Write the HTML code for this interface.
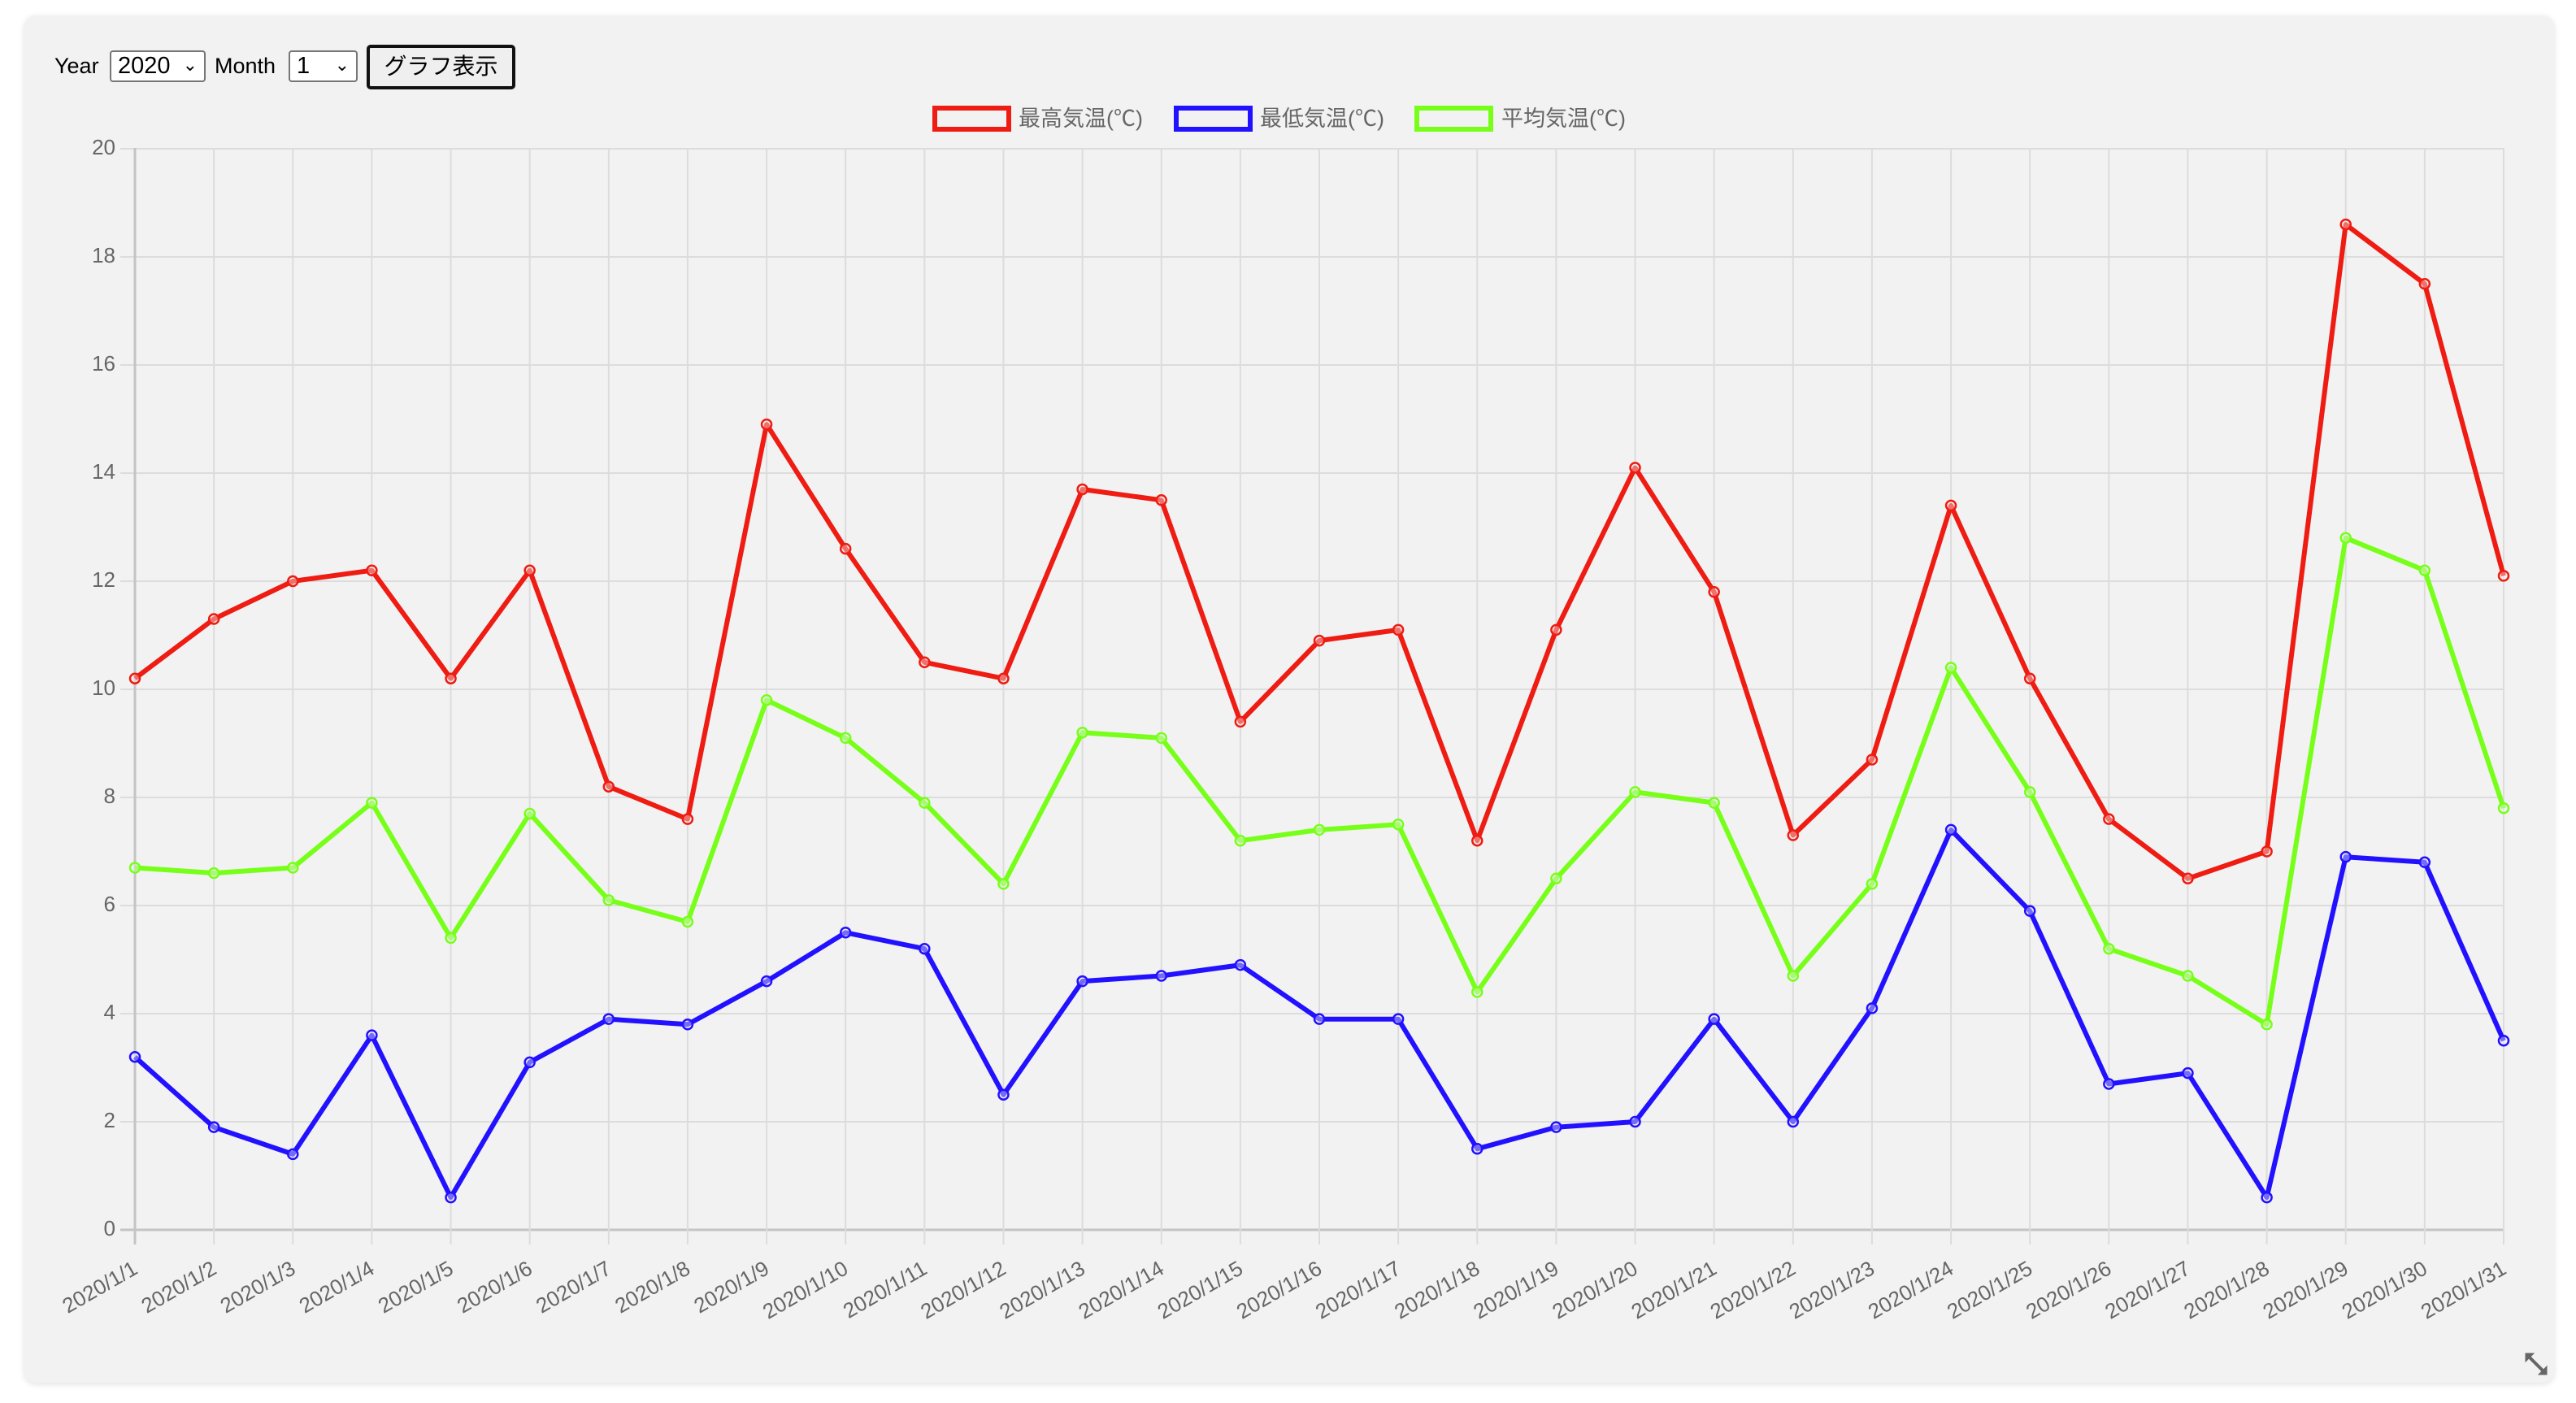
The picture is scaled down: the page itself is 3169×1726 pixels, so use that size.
<!DOCTYPE html>
<html><head><meta charset="utf-8"><style>
html,body{margin:0;padding:0;background:#fff;width:3169px;height:1726px;overflow:hidden;}
.card{position:absolute;left:30px;top:19px;width:3112px;height:1682px;background:#f2f2f2;border-radius:14px;box-shadow:0 2px 8px rgba(0,0,0,0.12);}
.ctrl{position:absolute;font-family:"Liberation Sans","Noto Sans CJK JP",sans-serif;font-size:27px;color:#000;}
.sel{position:absolute;background:#fff;border:2px solid #767676;border-radius:4px;box-sizing:border-box;font-family:"Liberation Sans",sans-serif;font-size:29px;line-height:35px;padding-left:8px;}
.btn{position:absolute;border:4px solid #111;border-radius:5px;box-sizing:border-box;background:#efefef;font-family:"Liberation Sans","Noto Sans CJK JP",sans-serif;font-size:28px;text-align:center;line-height:46px;}
svg{position:absolute;left:0;top:0;}
</style></head><body>
<div class="card"></div>
<div class="ctrl" style="left:67px;top:66px;">Year</div>
<div class="sel" style="left:135px;top:62px;width:118px;height:39px;">2020<span style="position:absolute;right:8px;top:-2px;font-size:22px;">&#8964;</span></div>
<div class="ctrl" style="left:264px;top:66px;">Month</div>
<div class="sel" style="left:355px;top:62px;width:85px;height:39px;">1<span style="position:absolute;right:8px;top:-2px;font-size:22px;">&#8964;</span></div>
<div class="btn" style="left:451px;top:55px;width:183px;height:55px;">グラフ表示</div>
<svg id="s" width="3169" height="1726" xmlns="http://www.w3.org/2000/svg" font-family="Liberation Sans, Noto Sans CJK JP, sans-serif">
<g id="grid"></g>
<g font-size="27" fill="#666">
<rect x="1150" y="133" width="91" height="26" fill="none" stroke="#ee1c12" stroke-width="6"/>
<text x="1253" y="155" font-size="27">最高気温(℃)</text>
<rect x="1447" y="133" width="91" height="26" fill="none" stroke="#2211ff" stroke-width="6"/>
<text x="1550" y="155" font-size="27">最低気温(℃)</text>
<rect x="1743" y="133" width="91" height="26" fill="none" stroke="#77ff1a" stroke-width="6"/>
<text x="1847" y="155" font-size="27">平均気温(℃)</text>
</g>
<g font-size="26" fill="#666" text-anchor="end" dominant-baseline="middle">
<text x="142" y="1513">0</text><text x="142" y="1380">2</text><text x="142" y="1247">4</text><text x="142" y="1114">6</text><text x="142" y="981">8</text><text x="142" y="848">10</text><text x="142" y="715">12</text><text x="142" y="582">14</text><text x="142" y="449">16</text><text x="142" y="316">18</text><text x="142" y="183">20</text>
</g>
<g id="xl" font-size="26" fill="#666" text-anchor="end">
<text>2020/1/1</text><text>2020/1/2</text><text>2020/1/3</text><text>2020/1/4</text><text>2020/1/5</text><text>2020/1/6</text><text>2020/1/7</text><text>2020/1/8</text><text>2020/1/9</text><text>2020/1/10</text><text>2020/1/11</text><text>2020/1/12</text><text>2020/1/13</text><text>2020/1/14</text><text>2020/1/15</text><text>2020/1/16</text><text>2020/1/17</text><text>2020/1/18</text><text>2020/1/19</text><text>2020/1/20</text><text>2020/1/21</text><text>2020/1/22</text><text>2020/1/23</text><text>2020/1/24</text><text>2020/1/25</text><text>2020/1/26</text><text>2020/1/27</text><text>2020/1/28</text><text>2020/1/29</text><text>2020/1/30</text><text>2020/1/31</text>
</g>
<g id="lines"></g>
<g transform="translate(3120,1678)" stroke="#666" stroke-width="4" fill="#666">
<line x1="-10" y1="-10" x2="10" y2="10"/>
<path d="M-13,-13 L-3,-13 L-13,-3Z M13,13 L3,13 L13,3Z" stroke-width="1"/>
</g>
</svg>
<script>
(function(){
var NS="http://www.w3.org/2000/svg",X0=166,DX=(3080-166)/30,Y0=1513,K=66.5;
function el(t,a,p){var e=document.createElementNS(NS,t);for(var k in a)e.setAttribute(k,a[k]);p.appendChild(e);return e;}
var g=document.getElementById('grid');
for(var i=0;i<=10;i++){var y=Y0-i*2*K;el('line',{x1:148,x2:3080,y1:y,y2:y,stroke:i==0?'#c4c4c4':'#dcdcdc','stroke-width':i==0?3:2},g);}
for(var j=0;j<31;j++){var x=X0+j*DX;el('line',{x1:x,x2:x,y1:182,y2:1531,stroke:j==0?'#c4c4c4':'#dcdcdc','stroke-width':j==0?3:2},g);}
var xl=document.getElementById('xl').children;
for(var j=0;j<31;j++){var x=X0+j*DX-4,y=1550;xl[j].setAttribute('x',x);xl[j].setAttribute('y',y+18);xl[j].setAttribute('transform','rotate(-30 '+x+' '+y+')');}
var D=[["#ee1c12",[10.2,11.3,12.0,12.2,10.2,12.2,8.2,7.6,14.9,12.6,10.5,10.2,13.7,13.5,9.4,10.9,11.1,7.2,11.1,14.1,11.8,7.3,8.7,13.4,10.2,7.6,6.5,7.0,18.6,17.5,12.1]],
["#2211ff",[3.2,1.9,1.4,3.6,0.6,3.1,3.9,3.8,4.6,5.5,5.2,2.5,4.6,4.7,4.9,3.9,3.9,1.5,1.9,2.0,3.9,2.0,4.1,7.4,5.9,2.7,2.9,0.6,6.9,6.8,3.5]],
["#77ff1a",[6.7,6.6,6.7,7.9,5.4,7.7,6.1,5.7,9.8,9.1,7.9,6.4,9.2,9.1,7.2,7.4,7.5,4.4,6.5,8.1,7.9,4.7,6.4,10.4,8.1,5.2,4.7,3.8,12.8,12.2,7.8]]];
var L=document.getElementById('lines');
D.forEach(function(s){var pts=s[1].map(function(v,i){return (X0+i*DX).toFixed(1)+','+(Y0-v*K).toFixed(1);});
el('polyline',{points:pts.join(' '),fill:'none',stroke:s[0],'stroke-width':6,'stroke-linejoin':'round'},L);
s[1].forEach(function(v,i){el('circle',{cx:X0+i*DX,cy:Y0-v*K,r:6,fill:'#f2f2f2','fill-opacity':0.4,stroke:s[0],'stroke-width':2.5},L);});});
})();
</script>
</body></html>
